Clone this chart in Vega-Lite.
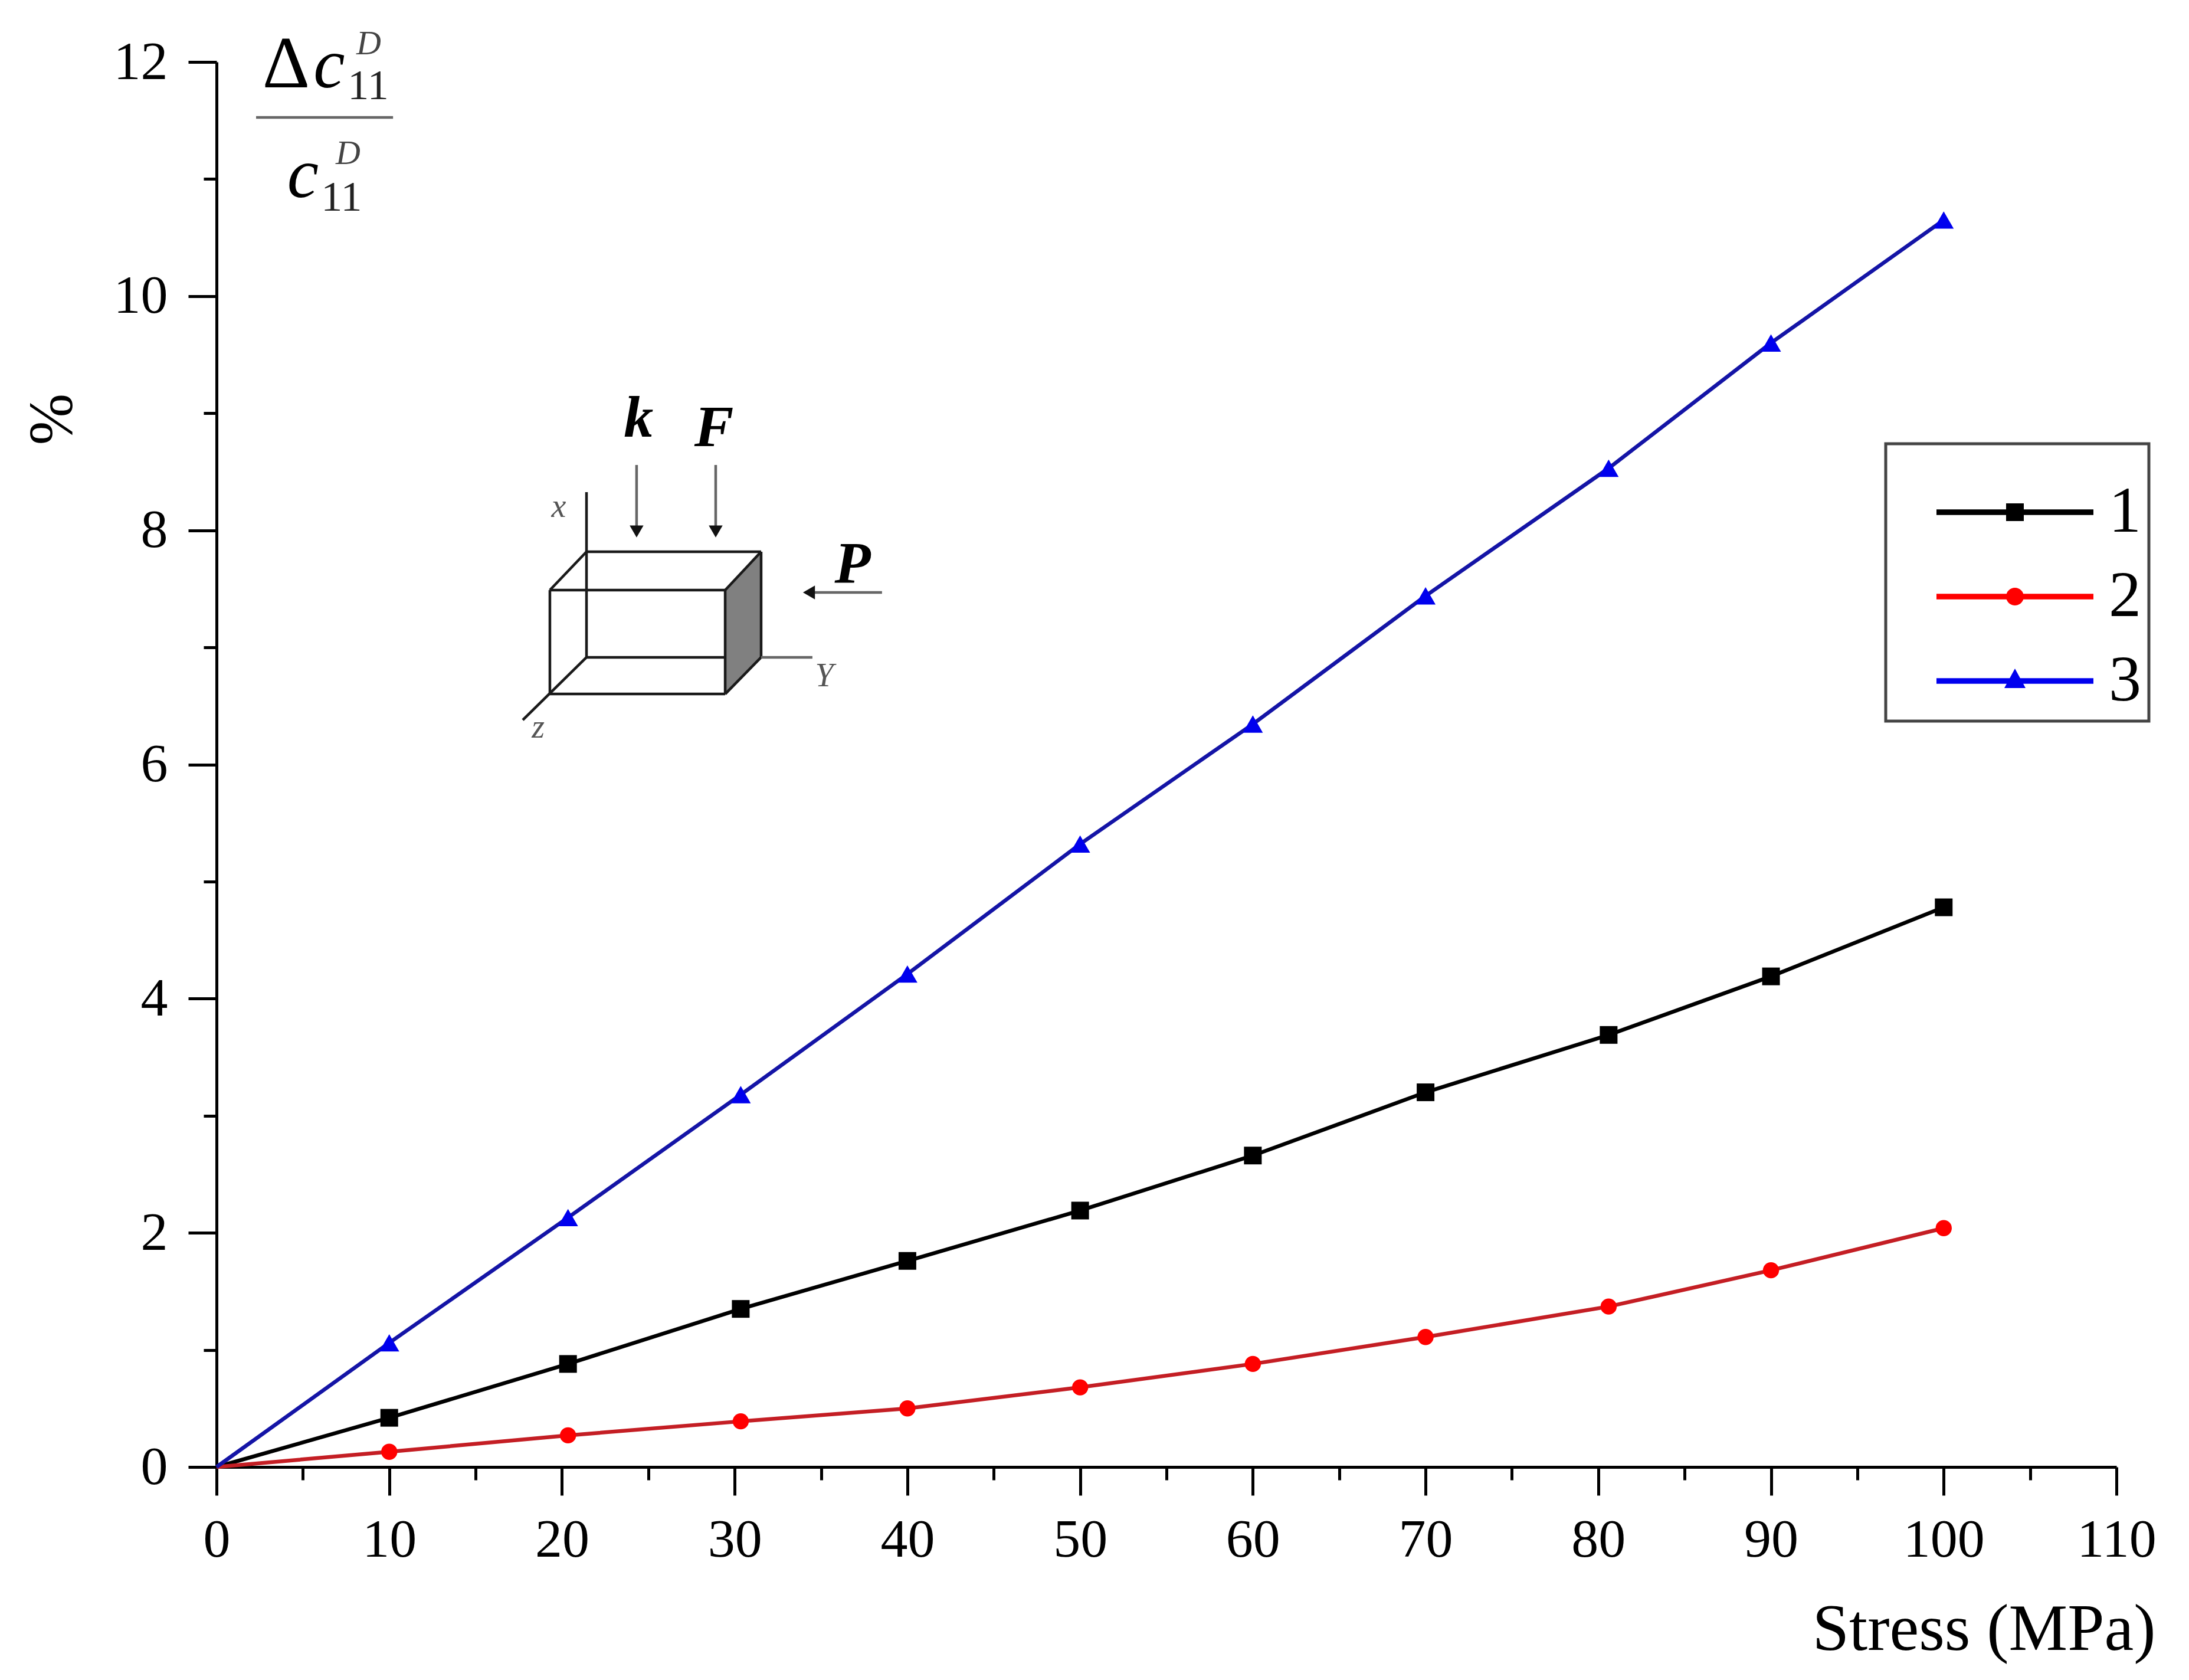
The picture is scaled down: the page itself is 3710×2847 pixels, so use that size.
{
  "$schema": "https://vega.github.io/schema/vega-lite/v6.json",
  "width": 3220,
  "height": 2381,
  "autosize": {"type": "none"},
  "padding": {"left": 367, "top": 105, "right": 123, "bottom": 361},
  "background": "white",
  "datasets": {
    "series": [
      {"x": 0, "y": 0, "s": "1"}, {"x": 10, "y": 0.42, "s": "1"}, {"x": 20.35, "y": 0.88, "s": "1"}, {"x": 30.35, "y": 1.35, "s": "1"}, {"x": 40, "y": 1.76, "s": "1"}, {"x": 50, "y": 2.19, "s": "1"}, {"x": 60, "y": 2.66, "s": "1"}, {"x": 70, "y": 3.2, "s": "1"}, {"x": 80.6, "y": 3.69, "s": "1"}, {"x": 90, "y": 4.19, "s": "1"}, {"x": 100, "y": 4.78, "s": "1"},
      {"x": 0, "y": 0, "s": "2"}, {"x": 10, "y": 0.13, "s": "2"}, {"x": 20.35, "y": 0.27, "s": "2"}, {"x": 30.35, "y": 0.39, "s": "2"}, {"x": 40, "y": 0.5, "s": "2"}, {"x": 50, "y": 0.68, "s": "2"}, {"x": 60, "y": 0.88, "s": "2"}, {"x": 70, "y": 1.11, "s": "2"}, {"x": 80.6, "y": 1.37, "s": "2"}, {"x": 90, "y": 1.68, "s": "2"}, {"x": 100, "y": 2.04, "s": "2"},
      {"x": 0, "y": 0, "s": "3"}, {"x": 10, "y": 1.06, "s": "3"}, {"x": 20.35, "y": 2.13, "s": "3"}, {"x": 30.35, "y": 3.18, "s": "3"}, {"x": 40, "y": 4.21, "s": "3"}, {"x": 50, "y": 5.32, "s": "3"}, {"x": 60, "y": 6.345, "s": "3"}, {"x": 70, "y": 7.44, "s": "3"}, {"x": 80.6, "y": 8.53, "s": "3"}, {"x": 90, "y": 9.6, "s": "3"}, {"x": 100, "y": 10.65, "s": "3"}
    ],
    "face": [
      {"x": 29.45, "y": 6.602, "y2": 7.489},
      {"x": 31.53, "y": 6.915, "y2": 7.817}
    ],
    "edges": [
      {"x": 19.3, "y": 7.489, "x2": 29.45, "y2": 7.489, "g": "edge"},
      {"x": 19.3, "y": 6.602, "x2": 29.45, "y2": 6.602, "g": "edge"},
      {"x": 19.3, "y": 6.602, "x2": 19.3, "y2": 7.489, "g": "edge"},
      {"x": 29.45, "y": 6.602, "x2": 29.45, "y2": 7.489, "g": "edge"},
      {"x": 21.42, "y": 7.817, "x2": 31.53, "y2": 7.817, "g": "edge"},
      {"x": 21.42, "y": 8.326, "x2": 21.42, "y2": 6.915, "g": "edge"},
      {"x": 21.42, "y": 6.915, "x2": 29.45, "y2": 6.915, "g": "edge"},
      {"x": 31.53, "y": 7.817, "x2": 31.53, "y2": 6.915, "g": "edge"},
      {"x": 19.3, "y": 7.489, "x2": 21.42, "y2": 7.817, "g": "edge"},
      {"x": 17.73, "y": 6.38, "x2": 21.42, "y2": 6.915, "g": "edge"},
      {"x": 29.45, "y": 7.489, "x2": 31.53, "y2": 7.817, "g": "edge"},
      {"x": 29.45, "y": 6.602, "x2": 31.53, "y2": 6.915, "g": "edge"},
      {"x": 31.53, "y": 6.915, "x2": 34.5, "y2": 6.915, "g": "arrow"},
      {"x": 24.32, "y": 8.558, "x2": 24.32, "y2": 8.0, "g": "arrow"},
      {"x": 28.9, "y": 8.558, "x2": 28.9, "y2": 8.0, "g": "arrow"},
      {"x": 38.53, "y": 7.469, "x2": 34.3, "y2": 7.469, "g": "arrow"},
      {"x": 2.29, "y": 11.526, "x2": 10.22, "y2": 11.526, "g": "bar"}
    ],
    "heads": [
      {"x": 24.32, "y": 7.99, "d": "down"},
      {"x": 28.9, "y": 7.99, "d": "down"},
      {"x": 34.3, "y": 7.469, "d": "left"}
    ],
    "annot": [
      {"t": "Δ", "x": 4.03, "y": 11.783, "g": "delta"},
      {"t": "c", "x": 6.52, "y": 11.783, "g": "c"},
      {"t": "c", "x": 5.0, "y": 10.846, "g": "c"},
      {"t": "11", "x": 8.78, "y": 11.68, "g": "sub"},
      {"t": "11", "x": 7.24, "y": 10.73, "g": "sub"},
      {"t": "D", "x": 8.81, "y": 12.065, "g": "sup"},
      {"t": "D", "x": 7.62, "y": 11.128, "g": "sup"},
      {"t": "k", "x": 24.43, "y": 8.8, "g": "force"},
      {"t": "F", "x": 28.8, "y": 8.72, "g": "force"},
      {"t": "P", "x": 36.83, "y": 7.555, "g": "force"},
      {"t": "x", "x": 19.81, "y": 8.114, "g": "axis"},
      {"t": "Y", "x": 35.19, "y": 6.668, "g": "axis"},
      {"t": "z", "x": 18.62, "y": 6.229, "g": "axis"}
    ]
  },
  "layer": [
    {
      "data": {"name": "series"},
      "mark": {"type": "line", "strokeWidth": 6.5},
      "encoding": {
        "x": {"field": "x", "type": "quantitative", "scale": {"domain": [0, 110], "nice": false, "zero": false},
          "axis": {
            "values": [0,5,10,15,20,25,30,35,40,45,50,55,60,65,70,75,80,85,90,95,100,105,110],
            "format": "d",
            "labelExpr": "datum.value % 10 === 0 ? datum.label : ''",
            "tickSize": {"condition": {"test": "datum.value % 10 === 0", "value": 48}, "value": 22},
            "labelPadding": 30,
            "title": "Stress (MPa)",
            "titleX": 3286, "titleY": 309, "titleAlign": "right", "titleBaseline": "alphabetic",
            "titleFontSize": 112
          }},
        "y": {"field": "y", "type": "quantitative", "scale": {"domain": [0, 12], "nice": false},
          "axis": {
            "values": [0,1,2,3,4,5,6,7,8,9,10,11,12],
            "format": "d",
            "labelExpr": "datum.value % 2 === 0 ? datum.label : ''",
            "tickSize": {"condition": {"test": "datum.value % 2 === 0", "value": 48}, "value": 22},
            "labelPadding": 35,
            "title": "%",
            "titleAngle": -90, "titleX": -246, "titleY": 605, "titleAlign": "center", "titleBaseline": "alphabetic",
            "titleFontSize": 105
          }},
        "stroke": {"field": "s", "type": "nominal", "scale": {"domain": ["1","2","3","0"], "range": ["#000000", "#c41e24", "#1414a6", "#000000"]}, "legend": null},
        "detail": {"field": "s"}
      }
    },
    {
      "data": {"name": "series"},
      "transform": [{"filter": "datum.x > 0 && datum.s == '1'"}],
      "mark": {"type": "point", "shape": "square", "filled": true, "opacity": 1, "strokeWidth": 0, "color": "#000000", "size": 900},
      "encoding": {
        "x": {"field": "x", "type": "quantitative"},
        "y": {"field": "y", "type": "quantitative"}
      }
    },
    {
      "data": {"name": "series"},
      "transform": [{"filter": "datum.x > 0 && datum.s == '2'"}],
      "mark": {"type": "point", "shape": "circle", "filled": true, "opacity": 1, "strokeWidth": 0, "color": "#ff0000", "size": 750},
      "encoding": {
        "x": {"field": "x", "type": "quantitative"},
        "y": {"field": "y", "type": "quantitative"}
      }
    },
    {
      "data": {"name": "series"},
      "transform": [{"filter": "datum.x > 0 && datum.s == '3'"}],
      "mark": {"type": "point", "shape": "triangle-up", "filled": true, "opacity": 1, "strokeWidth": 0, "color": "#0000ee", "size": 1150},
      "encoding": {
        "x": {"field": "x", "type": "quantitative"},
        "y": {"field": "y", "type": "quantitative"}
      }
    },
    {
      "data": {"name": "series"},
      "transform": [{"filter": "datum.x < 0"}],
      "mark": {"type": "point", "filled": true, "opacity": 1, "strokeWidth": 0},
      "encoding": {
        "x": {"field": "x", "type": "quantitative"},
        "y": {"field": "y", "type": "quantitative"},
        "color": {"field": "s", "type": "nominal", "scale": {"domain": ["1","2","3"], "range": ["#000000", "#ff0000", "#0000ee"]},
          "legend": {
            "title": " ", "titleFontSize": 1, "titlePadding": 47,
            "orient": "none", "legendX": 2829, "legendY": 647,
            "symbolSize": 1600, "symbolStrokeWidth": 0, "symbolOffset": 151, "labelOffset": 104,
            "labelFontSize": 110, "labelFont": "Liberation Serif", "labelColor": "black", "labelAlign": "left", "labelLimit": 600,
            "labelExpr": "datum.label + '\u2009\u200a'",
            "padding": 13, "strokeColor": "#444444", "fillColor": "white", "rowPadding": 33
          }},
        "shape": {"field": "s", "type": "nominal", "scale": {"domain": ["1","2","3"], "range": [
            "M-6.65,-0.24H6.65V0.24H-6.65ZM-0.75,-0.75H0.75V0.75H-0.75Z",
            "M-6.65,-0.24H6.65V0.24H-6.65ZM-0.75,0A0.75,0.75,0,1,1,0.75,0A0.75,0.75,0,1,1,-0.75,0Z",
            "M-6.65,-0.24H6.65V0.24H-6.65ZM0,-1.05L0.9,0.6H-0.9Z"]},
          "legend": {
            "title": " ", "titleFontSize": 1, "titlePadding": 47,
            "orient": "none", "legendX": 2829, "legendY": 647,
            "symbolSize": 1600, "symbolStrokeWidth": 0, "symbolOffset": 151, "labelOffset": 104,
            "labelFontSize": 110, "labelFont": "Liberation Serif", "labelColor": "black", "labelAlign": "left", "labelLimit": 600,
            "labelExpr": "datum.label + '\u2009\u200a'",
            "padding": 13, "strokeColor": "#444444", "fillColor": "white", "rowPadding": 33
          }}
      }
    },
    {
      "data": {"name": "face"},
      "mark": {"type": "area", "color": "#808080", "opacity": 1},
      "encoding": {
        "x": {"field": "x", "type": "quantitative"},
        "y": {"field": "y", "type": "quantitative"},
        "y2": {"field": "y2"}
      }
    },
    {
      "data": {"name": "edges"},
      "transform": [{"filter": "datum.g == 'edge'"}],
      "mark": {"type": "rule", "color": "#1a1a1a", "strokeWidth": 4.5},
      "encoding": {
        "x": {"field": "x", "type": "quantitative"},
        "y": {"field": "y", "type": "quantitative"},
        "x2": {"field": "x2"},
        "y2": {"field": "y2"}
      }
    },
    {
      "data": {"name": "edges"},
      "transform": [{"filter": "datum.g != 'edge'"}],
      "mark": {"type": "rule", "color": "#666666", "strokeWidth": 4.5},
      "encoding": {
        "x": {"field": "x", "type": "quantitative"},
        "y": {"field": "y", "type": "quantitative"},
        "x2": {"field": "x2"},
        "y2": {"field": "y2"}
      }
    },
    {
      "data": {"name": "heads"},
      "transform": [{"filter": "datum.d == 'down'"}],
      "mark": {"type": "point", "shape": "triangle-down", "filled": true, "color": "#111111", "size": 550, "opacity": 1},
      "encoding": {
        "x": {"field": "x", "type": "quantitative"},
        "y": {"field": "y", "type": "quantitative"}
      }
    },
    {
      "data": {"name": "heads"},
      "transform": [{"filter": "datum.d == 'left'"}],
      "mark": {"type": "point", "shape": "triangle-left", "filled": true, "color": "#111111", "size": 550, "opacity": 1},
      "encoding": {
        "x": {"field": "x", "type": "quantitative"},
        "y": {"field": "y", "type": "quantitative"}
      }
    },
    {
      "data": {"name": "annot"},
      "transform": [{"filter": "datum.g == 'delta'"}],
      "mark": {"type": "text", "font": "Liberation Serif", "fontSize": 125, "color": "black", "align": "center", "baseline": "alphabetic"},
      "encoding": {"x": {"field": "x", "type": "quantitative"}, "y": {"field": "y", "type": "quantitative"}, "text": {"field": "t"}}
    },
    {
      "data": {"name": "annot"},
      "transform": [{"filter": "datum.g == 'c'"}],
      "mark": {"type": "text", "font": "Liberation Serif", "fontSize": 120, "fontStyle": "italic", "color": "black", "align": "center", "baseline": "alphabetic"},
      "encoding": {"x": {"field": "x", "type": "quantitative"}, "y": {"field": "y", "type": "quantitative"}, "text": {"field": "t"}}
    },
    {
      "data": {"name": "annot"},
      "transform": [{"filter": "datum.g == 'sub'"}],
      "mark": {"type": "text", "font": "Liberation Serif", "fontSize": 72, "color": "#222222", "align": "center", "baseline": "alphabetic"},
      "encoding": {"x": {"field": "x", "type": "quantitative"}, "y": {"field": "y", "type": "quantitative"}, "text": {"field": "t"}}
    },
    {
      "data": {"name": "annot"},
      "transform": [{"filter": "datum.g == 'sup'"}],
      "mark": {"type": "text", "font": "Liberation Serif", "fontSize": 58, "fontStyle": "italic", "color": "#444444", "align": "center", "baseline": "alphabetic"},
      "encoding": {"x": {"field": "x", "type": "quantitative"}, "y": {"field": "y", "type": "quantitative"}, "text": {"field": "t"}}
    },
    {
      "data": {"name": "annot"},
      "transform": [{"filter": "datum.g == 'force'"}],
      "mark": {"type": "text", "font": "Liberation Serif", "fontSize": 100, "fontStyle": "italic", "fontWeight": "bold", "color": "black", "align": "center", "baseline": "alphabetic"},
      "encoding": {"x": {"field": "x", "type": "quantitative"}, "y": {"field": "y", "type": "quantitative"}, "text": {"field": "t"}}
    },
    {
      "data": {"name": "annot"},
      "transform": [{"filter": "datum.g == 'axis'"}],
      "mark": {"type": "text", "font": "Liberation Serif", "fontSize": 56, "fontStyle": "italic", "color": "#555555", "align": "center", "baseline": "alphabetic"},
      "encoding": {"x": {"field": "x", "type": "quantitative"}, "y": {"field": "y", "type": "quantitative"}, "text": {"field": "t"}}
    }
  ],
  "config": {
    "view": {"stroke": null},
    "font": "Liberation Serif",
    "axis": {
      "grid": false,
      "domainColor": "black", "domainWidth": 5,
      "tickColor": "black", "tickWidth": 5,
      "labelFont": "Liberation Serif", "labelFontSize": 92, "labelColor": "black", "labelOverlap": false, "labelFlush": false,
      "titleFont": "Liberation Serif", "titleFontWeight": "normal", "titleColor": "black"
    },
    "legend": {"strokeWidth": 5}
  }
}
